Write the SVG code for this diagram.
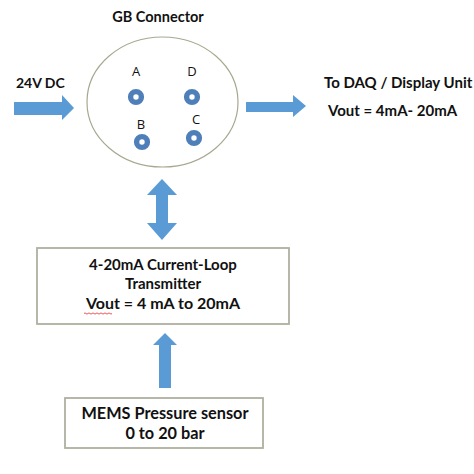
<svg xmlns="http://www.w3.org/2000/svg" width="474" height="474" viewBox="0 0 474 474">
<style>
.t{font-family:Lato,"Open Sans","Liberation Sans",sans-serif;font-weight:bold;fill:#111}
.p{font-family:"Open Sans","Liberation Sans",sans-serif;font-size:13px;fill:#111}
.arr{fill:#5B9BD5}
.box{fill:#fff;stroke:#b0b0a0;stroke-width:1.8}
.pin{fill:#fff;stroke:#4f7fb8;stroke-width:5.4}
</style>
<rect width="474" height="474" fill="#fff"/>
<g id="connector">
<ellipse cx="162.5" cy="102" rx="75.5" ry="65" fill="#fff" stroke="#a8a890" stroke-width="1.2"/>
<text class="t" x="158" y="22" font-size="14.5" text-anchor="middle">GB Connector</text>
<circle class="pin" cx="136" cy="97" r="5.4"/>
<circle class="pin" cx="192" cy="97" r="5.4"/>
<circle class="pin" cx="142" cy="142" r="5.4"/>
<circle class="pin" cx="194" cy="138" r="5.4"/>
<text class="p" x="136" y="76" text-anchor="middle">A</text>
<text class="p" x="192" y="76" text-anchor="middle">D</text>
<text class="p" x="141" y="129" text-anchor="middle">B</text>
<text class="p" x="196" y="124" text-anchor="middle">C</text>
</g>
<g id="input">
<text class="t" x="16" y="88" font-size="14">24V DC</text>
</g>
<g id="output">
<text class="t" x="324" y="88" font-size="15">To DAQ / Display Unit</text>
<text class="t" x="328" y="116" font-size="15">Vout = 4mA- 20mA</text>
</g>
<g id="transmitter">
<rect class="box" x="37" y="248" width="252" height="76"/>
<text class="t" x="163" y="270" font-size="15" text-anchor="middle">4-20mA Current-Loop</text>
<text class="t" x="163" y="289" font-size="15" text-anchor="middle">Transmitter</text>
<text class="t" x="163" y="309" font-size="16" text-anchor="middle">Vout = 4 mA to 20mA</text>
<path d="M84 313.5 q1 -1.2 2 0 t2 0 t2 0 t2 0 t2 0 t2 0 t2 0 t2 0 t2 0 t2 0 t2 0 t2 0 t2 0 t2 0" fill="none" stroke="#e03030" stroke-width="0.8"/>
</g>
<g id="sensor">
<rect class="box" x="65" y="398" width="198" height="50"/>
<text class="t" x="165" y="419" font-size="16.3" text-anchor="middle">MEMS Pressure sensor</text>
<text class="t" x="165" y="439" font-size="16.3" text-anchor="middle">0 to 20 bar</text>
</g>
<g id="connectors">
<polygon class="arr" points="14,102 62,102 62,95 74,108 62,120 62,115 14,115"/>
<polygon class="arr" points="246,102 293,102 293,95 306,106 293,117 293,112 246,112"/>
<polygon class="arr" points="162,179 177,195 168,195 168,223 177,223 162,240 147,223 156,223 156,195 147,195"/>
<polygon class="arr" points="165,333 177,345 171,345 171,388 159,388 159,345 153,345"/>
</g>
</svg>
